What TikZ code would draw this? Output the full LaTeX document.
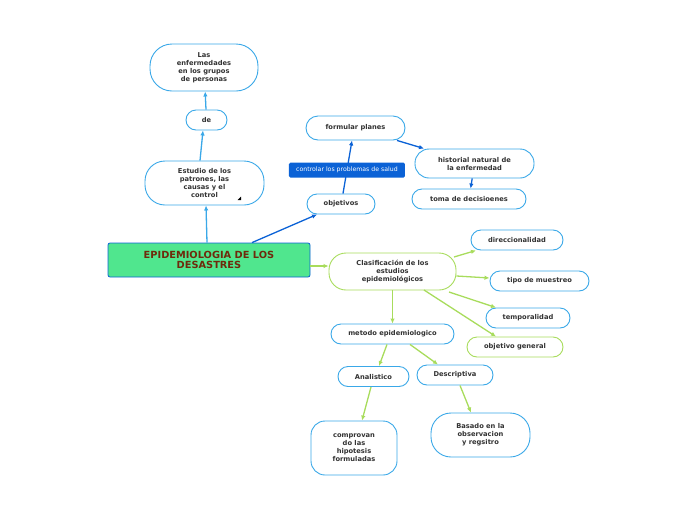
\documentclass[tikz,border=0pt]{standalone}
\usepackage{fontspec}
\setmainfont{DejaVu Sans}
\usetikzlibrary{arrows.meta}
\definecolor{lblue}{HTML}{3AA8E8}
\definecolor{dblue}{HTML}{0B62D6}
\definecolor{lgreen}{HTML}{A8DC5C}
\definecolor{ngreen}{HTML}{50E68E}
\definecolor{titlered}{HTML}{6E2A0C}
\definecolor{txt}{HTML}{333333}
\tikzset{
  pill/.style={draw=lblue, fill=white, line width=0.9pt, rounded corners=10pt, inner sep=0pt, minimum height=20pt, align=center, text=txt, font=\fontsize{6.7}{8}\selectfont\bfseries},
  gpill/.style={pill, draw=lgreen},
  larr/.style={-{Latex[length=5pt,width=4.5pt]}, line width=1.3pt, lblue},
  darr/.style={-{Latex[length=5pt,width=4.5pt]}, line width=1.3pt, dblue},
  garr/.style={-{Latex[length=5pt,width=4.5pt]}, line width=1.3pt, lgreen},
}
\begin{document}
\begin{tikzpicture}[x=1pt,y=-1pt]
\useasboundingbox (0,0) rectangle (697,520);
% centro
\node[draw=dblue, fill=ngreen, rounded corners=2pt, line width=0.8pt, minimum width=202pt, minimum height=34pt, inner sep=0pt, align=center, text=titlered, font=\fontsize{9.8}{10.5}\selectfont\bfseries] (epi) at (209,260) {EPIDEMIOLOGIA DE LOS\\DESASTRES};
% rama izquierda
\node[pill, minimum width=119pt, minimum height=44pt, rounded corners=20pt] (estudio) at (204.5,183) {Estudio de los\\patrones, las\\causas y el\\control};
\fill[black] (241,196.5) -- (241,200) -- (237.5,200) -- cycle;
\node[pill, minimum width=41pt] (de) at (206.5,120) {de};
\node[pill, minimum width=108pt, minimum height=47pt, rounded corners=22pt] (las) at (204,67.5) {Las\\enfermedades\\en los grupos\\de personas};
% rama objetivos
\node[pill, minimum width=68pt] (obj) at (341,204) {objetivos};
\node[pill, minimum width=99pt, minimum height=24pt, rounded corners=12pt] (planes) at (355.5,128) {formular planes};
\node[pill, minimum width=119pt, minimum height=29pt, rounded corners=14pt] (historial) at (474.5,163.5) {historial natural de\\la enfermedad};
\node[pill, minimum width=114pt] (toma) at (469,199) {toma de decisioenes};
% clasificacion
\node[gpill, minimum width=127pt, minimum height=37pt, rounded corners=17pt] (clasif) at (392.5,271.5) {Clasificación de los\\estudios\\epidemiológicos};
\node[pill, minimum width=92pt] (direc) at (517,240) {direccionalidad};
\node[pill, minimum width=99pt] (tipo) at (539.5,281) {tipo de muestreo};
\node[pill, minimum width=84pt] (temp) at (528,318) {temporalidad};
\node[gpill, minimum width=96pt] (objgen) at (515,347) {objetivo general};
\node[pill, minimum width=123pt] (metodo) at (392.5,334) {metodo epidemiologico};
\node[pill, minimum width=71pt] (analis) at (373.5,376.5) {Analistico};
\node[pill, minimum width=76pt] (descrip) at (455,375) {Descriptiva};
\node[pill, minimum width=86pt, minimum height=54pt, rounded corners=14pt] (comprob) at (354,448) {comprovan\\do las\\hipotesis\\formuladas};
\node[pill, minimum width=99pt, minimum height=44pt, rounded corners=20pt] (basado) at (480.5,435) {Basado en la\\observacion\\y regsitro};
% conectores
\draw[larr] (epi.north -| 207,0) -- (estudio.south -| 206,0);
\draw[larr] (estudio.north -| 200,0) -- (de.south -| 203,0);
\draw[larr] (de) -- (las);
\draw[darr] (epi.north -| 252,0) -- (obj.south -| 317,0);
\draw[darr] (obj.north -| 343,0) -- (planes.south -| 352,0) node[pos=0.44, fill=dblue, rounded corners=1.5pt, text=white, inner sep=2.5pt, minimum width=116pt, minimum height=15pt, font=\fontsize{6.2}{7}\selectfont] (ctrl) {controlar los problemas de salud};
\draw[darr] (planes.south -| 397,0) -- (historial.north -| 424,0);
\draw[darr] (historial) -- (toma);
\draw[garr] (epi.east |- 0,266) -- (clasif.west |- 0,266);
\draw[garr] (454,257) -- (direc.south -| 476,0);
\draw[garr] (clasif.east |- 0,276) -- (tipo.west |- 0,278);
\draw[garr] (449,292) -- (temp.north -| 496,0);
\draw[garr] (424,290) -- (objgen.north -| 496,0);
\draw[garr] (clasif) -- (metodo);
\draw[garr] (metodo.south -| 387,0) -- (analis.north -| 379,0);
\draw[garr] (metodo.south -| 410,0) -- (descrip.north -| 438,0);
\draw[garr] (analis.south -| 371,0) -- (comprob.north -| 362,0);
\draw[garr] (descrip.south -| 460,0) -- (basado.north -| 471,0);
\end{tikzpicture}
\end{document}
